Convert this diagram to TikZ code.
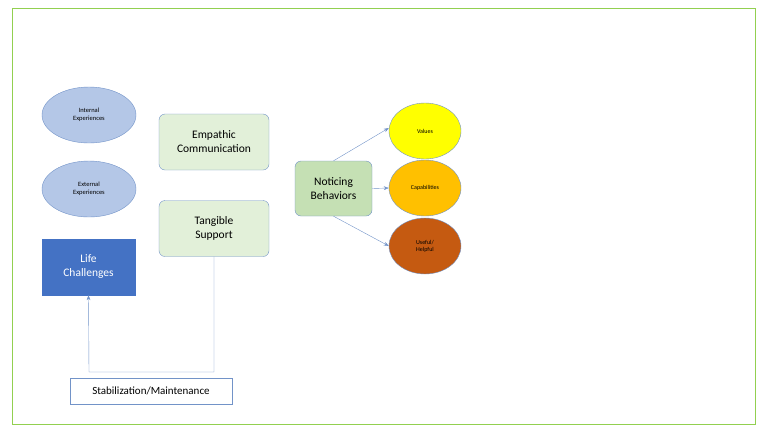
\documentclass[tikz,border=0pt]{standalone}
\usepackage{fontspec}
\setmainfont{Carlito}
\usetikzlibrary{shapes.geometric,arrows.meta}
\definecolor{frame}{RGB}{146,208,80}
\definecolor{ln}{RGB}{114,147,200}
\definecolor{ell}{RGB}{180,199,231}
\definecolor{lg}{RGB}{226,240,217}
\definecolor{mg}{RGB}{197,224,180}
\definecolor{bb}{RGB}{68,114,196}
\definecolor{ye}{RGB}{255,255,0}
\definecolor{or}{RGB}{255,192,0}
\definecolor{rb}{RGB}{197,90,17}
\begin{document}
\begin{tikzpicture}[x=1pt,y=-1pt,
  el/.style={ellipse,draw=ln,minimum width=94pt,minimum height=56pt,align=center,font=\fontsize{6.5}{8}\selectfont,fill=ell},
  ce/.style={ellipse,draw=ln,minimum width=72pt,minimum height=56pt,align=center,font=\fontsize{6}{7}\selectfont},
  gb/.style={rectangle,rounded corners=6pt,draw=ln,fill=lg,minimum width=110pt,minimum height=56pt,align=center,font=\fontsize{11.5}{14}\selectfont},
  ar/.style={draw=ln,-{Stealth[length=5pt]}}]
\useasboundingbox (0,0) rectangle (768,432);
\draw[frame,line width=1pt] (12,8) rectangle (755,424);
\node[el] (ie) at (89,115) {Internal\\Experiences};
\node[el] (ee) at (89,189) {External\\Experiences};
\node[rectangle,fill=bb,draw=bb,text=white,minimum width=93pt,minimum height=56pt,align=center,font=\fontsize{11.5}{14}\selectfont] (lc) at (88.5,267) {Life\\Challenges};
\node[gb] (ec) at (214,142) {Empathic\\Communication};
\node[gb] (ts) at (214,228.5) {Tangible\\Support};
\node[gb,fill=mg,minimum width=77pt,minimum height=55pt] (nb) at (333.5,188.5) {Noticing\\Behaviors};
\node[ce,fill=ye] (va) at (425,131) {Values};
\node[ce,fill=or] (ca) at (425,188) {Capabilities};
\node[ce,fill=rb] (uh) at (425,246) {Useful/\\Helpful};
\node[rectangle,draw=ln,minimum width=162pt,minimum height=26pt,font=\fontsize{11}{13}\selectfont] (sm) at (151,391) {Stabilization/Maintenance};
\draw[ar] (nb.north) -- (va.west|-0,128);
\draw[ar] (nb.east) -- (ca.west);
\draw[ar] (nb.south) -- (uh.west|-0,246);
\coordinate (c1) at (214,372);
\coordinate (c2) at (89,372);
\draw[ar] (ts.south) -- (c1) -- (c2) -- (lc.south);
\end{tikzpicture}
\end{document}
